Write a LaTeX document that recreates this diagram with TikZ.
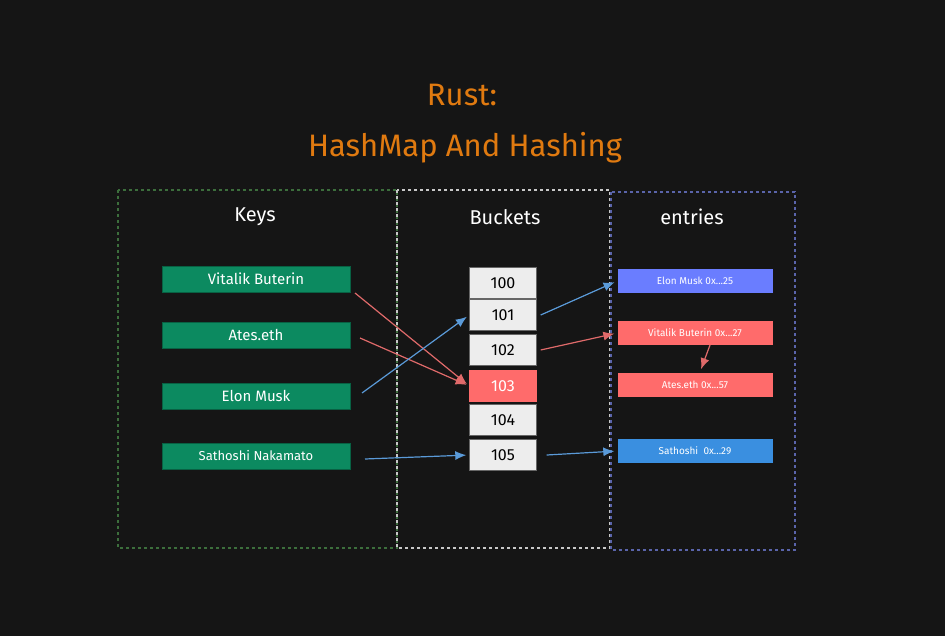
\documentclass[tikz,border=0pt]{standalone}
\usepackage{fontspec}
\setmainfont{Fira Sans}
\usetikzlibrary{arrows.meta}
\definecolor{bg}{HTML}{151515}
\definecolor{kgreen}{HTML}{0C8A60}
\definecolor{ered}{HTML}{FF6B6B}
\definecolor{eblue}{HTML}{6A7DFF}
\definecolor{sblue}{HTML}{3A8FE0}
\definecolor{ttl}{HTML}{E07A10}
\definecolor{ared}{HTML}{E06A6A}
\definecolor{ablue}{HTML}{5A9AD8}
\definecolor{fgreen}{HTML}{3C6E3C}
\definecolor{fwhite}{HTML}{C8C8C8}
\definecolor{fblue}{HTML}{5A64AA}
\tikzset{
  key/.style={fill=kgreen,draw=kgreen!70!black,minimum width=188pt,minimum height=26pt,text=white,font=\fontsize{15}{15}\selectfont,inner sep=0},
  bucket/.style={fill=white!93!black,draw=black!60,minimum width=67pt,minimum height=31pt,text=black,font=\fontsize{16}{16}\selectfont,inner sep=0},
  entry/.style={minimum width=155pt,minimum height=24pt,text=white,font=\fontsize{10}{10}\selectfont,inner sep=0},
  frame/.style={dashed,line width=1.2pt},
  head/.style={text=white,font=\fontsize{20}{20}\selectfont},
  ar/.style={-{Latex[length=11pt,width=9pt]},line width=1.2pt,shorten >=3pt},
}
\begin{document}
\begin{tikzpicture}[x=1pt,y=-1pt]
\fill[bg] (0,0) rectangle (945,636);
\useasboundingbox (0,0) rectangle (945,636);
\node[text=ttl,font=\fontsize{31}{31}\selectfont] (t1) at (462,95) {Rust:};
\node[text=ttl,font=\fontsize{31}{31}\selectfont] (t2) at (465,148) {HashMap And Hashing};
\draw[frame,draw=fgreen] (118,190) rectangle (397,548);
\draw[frame,draw=fwhite] (397,190) rectangle (610,548);
\draw[frame,draw=fblue] (611,192) rectangle (795,550);
\node[head] (hk) at (255,217) {Keys};
\node[head] (hb) at (505,217) {Buckets};
\node[head] (he) at (692,217) {entries};
\node[key] (k1) at (256,279) {Vitalik Buterin};
\node[key] (k2) at (256,335) {Ates.eth};
\node[key] (k3) at (256,396) {Elon Musk};
\node[key,font=\fontsize{13}{13}\selectfont] (k4) at (256,456) {Sathoshi Nakamato};
\node[bucket] (b0) at (503,283) {100};
\node[bucket] (b1) at (503,315) {101};
\node[bucket] (b2) at (503,350) {102};
\node[bucket,fill=ered,draw=ered,text=white] (b3) at (503,386) {103};
\node[bucket] (b4) at (503,420) {104};
\node[bucket] (b5) at (503,455) {105};
\node[entry,fill=eblue] (e1) at (695,281) {Elon Musk 0x...25};
\node[entry,fill=ered] (e2) at (695,333) {Vitalik Buterin 0x...27};
\node[entry,fill=ered] (e3) at (695,385) {Ates.eth 0x...57};
\node[entry,fill=sblue] (e4) at (695,451) {Sathoshi\ \ 0x...29};
\coordinate (a1) at (355,293); \coordinate (a2) at (360,338);
\coordinate (a3) at (362,393); \coordinate (a4) at (365,459);
\coordinate (c1) at (710,345); \coordinate (c2) at (700,372);
\draw[ar,ared] (a1) -- (b3.west);
\draw[ar,ared] (a2) -- (b3.west);
\draw[ar,ablue] (a3) -- (b1.west);
\draw[ar,ablue] (a4) -- (b5.west);
\draw[ar,ablue] ([xshift=4pt]b1.east) -- (e1.west);
\draw[ar,ared] ([xshift=4pt]b2.east) -- (e2.west);
\draw[ar,ablue] ([xshift=10pt]b5.east) -- (e4.west);
\draw[ar,ared] (c1) -- (c2);
\end{tikzpicture}
\end{document}
